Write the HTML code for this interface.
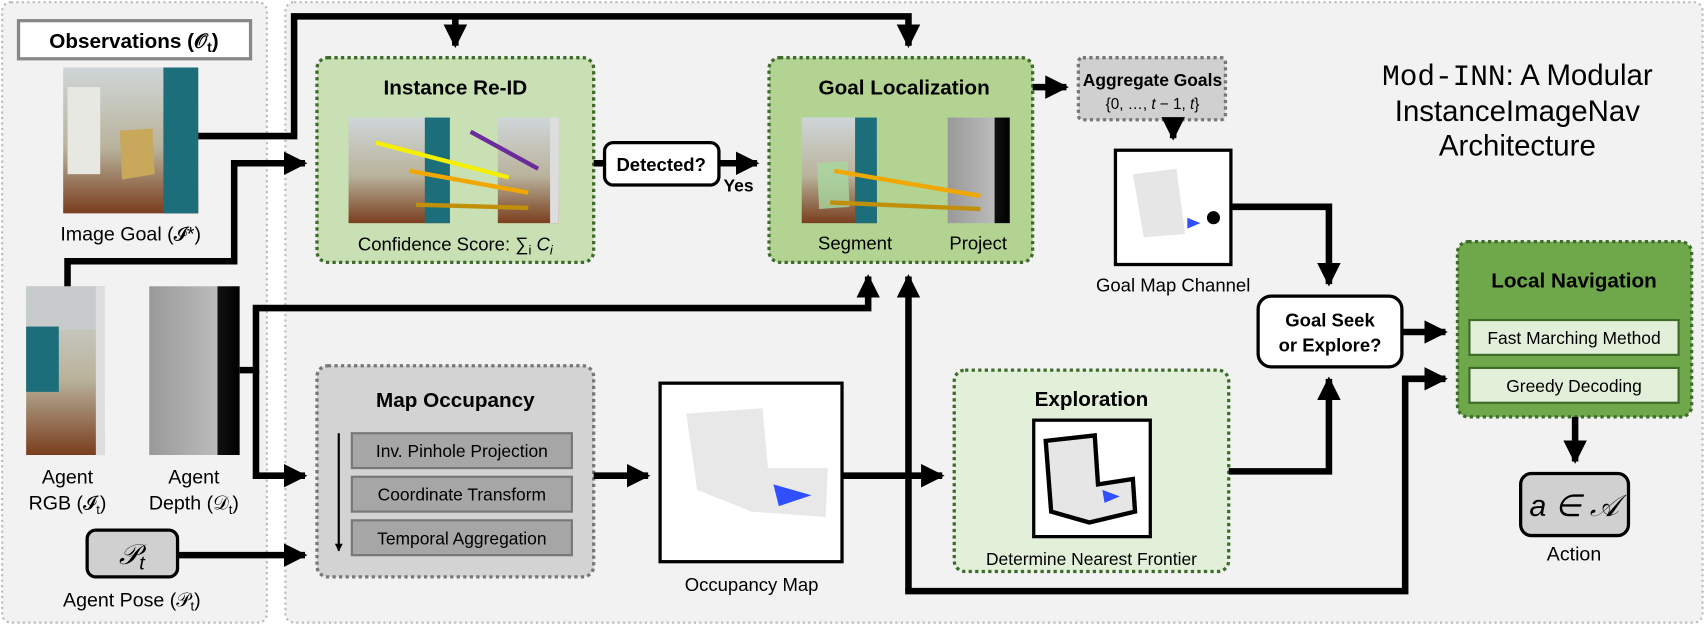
<!DOCTYPE html>
<html><head><meta charset="utf-8"><style>
html,body{margin:0;padding:0;background:#fff}
svg{display:block}
text{font-family:"Liberation Sans",sans-serif}
</style></head><body>
<svg width="1708" height="627" viewBox="0 0 1568 576" preserveAspectRatio="none" xmlns="http://www.w3.org/2000/svg">
<defs>
<marker id="ah" viewBox="0 0 10 10" refX="9" refY="5" markerWidth="3.6" markerHeight="3.6" orient="auto" markerUnits="strokeWidth"><path d="M0,0L10,5L0,10z" fill="#000"/></marker>
<linearGradient id="room" x1="0" y1="0" x2="0" y2="1"><stop offset="0" stop-color="#cfd6d8"/><stop offset="0.55" stop-color="#b9b39c"/><stop offset="1" stop-color="#7a3e1e"/></linearGradient>
<linearGradient id="depth" x1="0" y1="0" x2="1" y2="0"><stop offset="0" stop-color="#999"/><stop offset="0.75" stop-color="#bbb"/><stop offset="0.76" stop-color="#111"/><stop offset="1" stop-color="#000"/></linearGradient>
</defs>
<rect x="2" y="2" width="243" height="570" rx="8" fill="#f2f2f2" stroke="#bbb" stroke-width="2" stroke-dasharray="2 3"/>
<rect x="262" y="2" width="1301" height="570" rx="8" fill="#f2f2f2" stroke="#bbb" stroke-width="2" stroke-dasharray="2 3"/>

<rect x="17" y="19" width="213" height="35" fill="#fff" stroke="#888" stroke-width="3"/>
<text x="123" y="44" font-size="19" font-weight="bold" text-anchor="middle">Observations (𝒪<tspan font-size="13" dy="4">t</tspan><tspan dy="-4">)</tspan></text>

<rect x="58" y="62" width="124" height="134" fill="url(#room)"/>
<rect x="150" y="62" width="32" height="134" fill="#1c6f7a"/>
<rect x="62" y="80" width="30" height="80" fill="#e8e8e2"/>
<path d="M110 120 L140 118 L142 160 L112 165z" fill="#c8a85a"/>
<text x="120" y="221" font-size="18" text-anchor="middle">Image Goal (𝓘*)</text>

<rect x="24" y="263" width="72" height="155" fill="url(#room)"/>
<rect x="24" y="263" width="72" height="40" fill="#c7cbcc"/>
<rect x="24" y="300" width="30" height="60" fill="#1c6f7a"/>
<rect x="88" y="263" width="8" height="155" fill="#ddd"/>
<rect x="137" y="263" width="83" height="155" fill="url(#depth)"/>
<text x="62" y="444" font-size="18" text-anchor="middle">Agent</text>
<text x="62" y="468" font-size="18" text-anchor="middle">RGB (𝓘<tspan font-size="12" dy="4">t</tspan><tspan dy="-4">)</tspan></text>
<text x="178" y="444" font-size="18" text-anchor="middle">Agent</text>
<text x="178" y="468" font-size="18" text-anchor="middle">Depth (𝒟<tspan font-size="12" dy="4">t</tspan><tspan dy="-4">)</tspan></text>

<rect x="80" y="487" width="83" height="43" rx="8" fill="#d0d0d0" stroke="#000" stroke-width="3"/>
<text x="121" y="518" font-size="26" font-style="italic" text-anchor="middle" font-family="Liberation Serif,serif">𝒫<tspan font-size="18" dy="5">t</tspan></text>
<text x="121" y="557" font-size="18" text-anchor="middle">Agent Pose (𝒫<tspan font-size="12" dy="4">t</tspan><tspan dy="-4">)</tspan></text>

<rect x="291" y="53" width="254" height="188" rx="10" fill="#c9e0b5" stroke="#3d6b2a" stroke-width="3" stroke-dasharray="3 3"/>
<text x="418" y="87" font-size="19" font-weight="bold" text-anchor="middle">Instance Re-ID</text>
<rect x="320" y="108" width="93" height="97" fill="url(#room)"/>
<rect x="390" y="108" width="23" height="97" fill="#1c6f7a"/>
<rect x="457" y="108" width="56" height="97" fill="url(#room)"/>
<rect x="505" y="108" width="8" height="97" fill="#ddd"/>
<line x1="432" y1="121" x2="494" y2="155" stroke="#6a2c9a" stroke-width="4"/>
<line x1="345" y1="131" x2="467" y2="163" stroke="#f3f000" stroke-width="4"/>
<line x1="376" y1="157" x2="485" y2="177" stroke="#f0a800" stroke-width="4"/>
<line x1="382" y1="188" x2="485" y2="191" stroke="#c0900a" stroke-width="4"/>
<text x="418" y="230" font-size="17" text-anchor="middle">Confidence Score: ∑<tspan font-size="12" dy="4">i</tspan><tspan dy="-4" font-style="italic"> C</tspan><tspan font-size="12" dy="4" font-style="italic">i</tspan></text>

<rect x="555" y="131" width="105" height="39" rx="8" fill="#fff" stroke="#000" stroke-width="3"/>
<text x="607" y="157" font-size="17" font-weight="bold" text-anchor="middle">Detected?</text>
<text x="678" y="176" font-size="16" font-weight="bold" text-anchor="middle">Yes</text>

<rect x="706" y="53" width="242" height="188" rx="10" fill="#b3d393" stroke="#3d6b2a" stroke-width="3" stroke-dasharray="3 3"/>
<text x="830" y="87" font-size="19" font-weight="bold" text-anchor="middle">Goal Localization</text>
<rect x="736" y="108" width="69" height="97" fill="url(#room)"/>
<rect x="785" y="108" width="20" height="97" fill="#1c6f7a"/>
<path d="M750 150 L778 148 L780 190 L752 192z" fill="#a8d8a0" opacity="0.8"/>
<rect x="870" y="108" width="57" height="97" fill="url(#depth)"/>
<line x1="766" y1="157" x2="900" y2="180" stroke="#f0a800" stroke-width="4"/>
<line x1="762" y1="186" x2="900" y2="192" stroke="#c0900a" stroke-width="4"/>
<text x="785" y="229" font-size="17" text-anchor="middle">Segment</text>
<text x="898" y="229" font-size="17" text-anchor="middle">Project</text>

<rect x="990" y="53" width="135" height="57" rx="4" fill="#d0d0d0" stroke="#777" stroke-width="3" stroke-dasharray="3 3"/>
<text x="1058" y="79" font-size="16" font-weight="bold" text-anchor="middle">Aggregate Goals</text>
<text x="1058" y="100" font-size="14" text-anchor="middle" font-family="Liberation Serif,serif">{0, …, <tspan font-style="italic">t</tspan> − 1, <tspan font-style="italic">t</tspan>}</text>

<rect x="1024" y="138" width="106" height="105" fill="#fff" stroke="#000" stroke-width="3"/>
<path d="M1040 160 L1080 155 L1088 215 L1050 218z" fill="#e6e6e6"/>
<path d="M1090 200 L1102 205 L1090 210z" fill="#3050ff"/>
<circle cx="1114" cy="200" r="6" fill="#000"/>
<text x="1077" y="268" font-size="17" text-anchor="middle">Goal Map Channel</text>

<text x="1393" y="78" font-size="27" text-anchor="middle"><tspan font-family="Liberation Mono,monospace">Mod-INN</tspan>: A Modular</text>
<text x="1393" y="111" font-size="27" text-anchor="middle">InstanceImageNav</text>
<text x="1393" y="143" font-size="27" text-anchor="middle">Architecture</text>

<rect x="1155" y="272" width="132" height="65" rx="12" fill="#fff" stroke="#000" stroke-width="3"/>
<text x="1221" y="300" font-size="17" font-weight="bold" text-anchor="middle">Goal Seek</text>
<text x="1221" y="323" font-size="17" font-weight="bold" text-anchor="middle">or Explore?</text>

<rect x="1338" y="222" width="215" height="161" rx="10" fill="#6fa84a" stroke="#3d6b2a" stroke-width="3" stroke-dasharray="3 3"/>
<text x="1445" y="264" font-size="19" font-weight="bold" text-anchor="middle">Local Navigation</text>
<rect x="1349" y="294" width="192" height="32" fill="#e2efd9" stroke="#3d6b2a" stroke-width="2"/>
<text x="1445" y="316" font-size="16" text-anchor="middle">Fast Marching Method</text>
<rect x="1349" y="338" width="192" height="32" fill="#e2efd9" stroke="#3d6b2a" stroke-width="2"/>
<text x="1445" y="360" font-size="16" text-anchor="middle">Greedy Decoding</text>

<rect x="1396" y="435" width="99" height="57" rx="10" fill="#d0d0d0" stroke="#000" stroke-width="3"/>
<text x="1445" y="474" font-size="28" text-anchor="middle" font-family="Liberation Serif,serif" font-style="italic">a ∈ 𝒜</text>
<text x="1445" y="515" font-size="18" text-anchor="middle">Action</text>

<rect x="291" y="336" width="254" height="194" rx="10" fill="#d3d3d3" stroke="#777" stroke-width="3" stroke-dasharray="3 3"/>
<text x="418" y="374" font-size="19" font-weight="bold" text-anchor="middle">Map Occupancy</text>
<rect x="323" y="398" width="202" height="32" fill="#a6a6a6" stroke="#777" stroke-width="2"/>
<text x="424" y="420" font-size="16" text-anchor="middle">Inv. Pinhole Projection</text>
<rect x="323" y="438" width="202" height="32" fill="#a6a6a6" stroke="#777" stroke-width="2"/>
<text x="424" y="460" font-size="16" text-anchor="middle">Coordinate Transform</text>
<rect x="323" y="478" width="202" height="32" fill="#a6a6a6" stroke="#777" stroke-width="2"/>
<text x="424" y="500" font-size="16" text-anchor="middle">Temporal Aggregation</text>
<line x1="311" y1="398" x2="311" y2="506" stroke="#000" stroke-width="2" marker-end="url(#ah)"/>

<rect x="606" y="352" width="167" height="164" fill="#fff" stroke="#000" stroke-width="3"/>
<path d="M630 380 L700 375 L705 430 L760 430 L758 475 L690 470 L640 450z" fill="#e8e8e8"/>
<path d="M710 445 L745 455 L715 465z" fill="#3050ff"/>
<text x="690" y="543" font-size="17" text-anchor="middle">Occupancy Map</text>

<rect x="876" y="340" width="252" height="185" rx="10" fill="#e2efd9" stroke="#3d6b2a" stroke-width="3" stroke-dasharray="3 3"/>
<text x="1002" y="373" font-size="19" font-weight="bold" text-anchor="middle">Exploration</text>
<rect x="949" y="386" width="107" height="107" fill="#fff" stroke="#000" stroke-width="3"/>
<path d="M960 405 L1005 400 L1008 445 L1040 440 L1042 470 L1000 480 L965 470z" fill="#e6e6e6" stroke="#000" stroke-width="4"/>
<path d="M1012 450 L1028 456 L1014 462z" fill="#3050ff"/>
<text x="1002" y="519" font-size="16" text-anchor="middle">Determine Nearest Frontier</text>

<g fill="none" stroke="#000" stroke-width="6" stroke-linejoin="miter">
<path d="M182 125 H270 V15 H834 V42" marker-end="url(#ah)"/>
<path d="M418 15 V42" marker-end="url(#ah)"/>
<path d="M62 263 V240 H215 V150 H280" marker-end="url(#ah)"/>
<path d="M220 340 H235 V283 H797 V254" marker-end="url(#ah)"/>
<path d="M235 340 V437 H280" marker-end="url(#ah)"/>
<path d="M163 510 H280" marker-end="url(#ah)"/>
<path d="M545 150 H555"/>
<path d="M660 150 H695" marker-end="url(#ah)"/>
<path d="M948 80 H979" marker-end="url(#ah)"/>
<path d="M1077 110 V127" marker-end="url(#ah)"/>
<path d="M1130 190 H1220 V261" marker-end="url(#ah)"/>
<path d="M1128 433 H1220 V348" marker-end="url(#ah)"/>
<path d="M545 437 H595" marker-end="url(#ah)"/>
<path d="M773 437 H865" marker-end="url(#ah)"/>
<path d="M834 543 V254" marker-end="url(#ah)"/>
<path d="M831 543 H1290 V348 H1327" marker-end="url(#ah)"/>
<path d="M1287 305 H1327" marker-end="url(#ah)"/>
<path d="M1446 383 V424" marker-end="url(#ah)"/>
</g>
</svg>
</body></html>
